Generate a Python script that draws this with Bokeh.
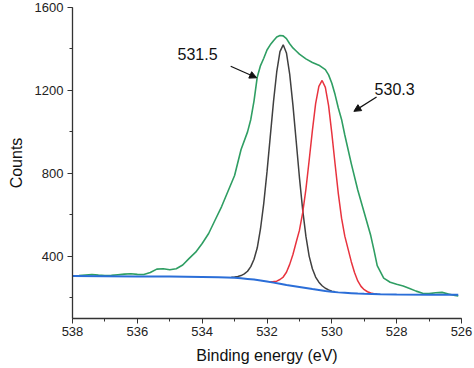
from bokeh.plotting import figure
from bokeh.models import Range1d, SingleIntervalTicker, Arrow, NormalHead, Label
from bokeh.embed import file_html
from bokeh.resources import INLINE

# ---- data ----
# envelope (measured spectrum, green)
env_be = [538.0, 537.8, 537.6, 537.4, 537.2, 537.0, 536.8, 536.6, 536.4, 536.2,
          536.0, 535.8, 535.6, 535.4, 535.2, 535.0, 534.8, 534.6, 534.4, 534.2,
          534.0, 533.8, 533.6, 533.4, 533.2, 533.0, 532.8, 532.6, 532.5, 532.4,
          532.3, 532.2, 532.1, 532.0, 531.9, 531.8, 531.7, 531.6, 531.5, 531.4,
          531.3, 531.2, 531.1, 531.0, 530.8, 530.6, 530.4, 530.2, 530.1, 530.0,
          529.9, 529.8, 529.7, 529.6, 529.4, 529.2, 529.0, 528.8, 528.7, 528.6,
          528.4, 528.2, 528.0, 527.8, 527.6, 527.4, 527.2, 527.0, 526.8, 526.6,
          526.4, 526.2, 526.1]
env_counts = [305, 307, 310, 312, 309, 307, 308, 311, 314, 316,
              313, 312, 322, 338, 340, 335, 340, 358, 390, 420,
              462, 510, 575, 640, 715, 790, 915, 1000, 1060, 1150,
              1265, 1320, 1355, 1395, 1420, 1440, 1458, 1465, 1463, 1450,
              1425, 1405, 1390, 1375, 1352, 1335, 1322, 1300, 1275, 1235,
              1180, 1115, 1060, 985, 847, 720, 610, 500, 430, 355,
              295, 275, 265, 257, 245, 232, 222, 220, 224, 226,
              218, 211, 209]

# background (blue)
bg_be = [538.0, 537.0, 536.0, 535.0, 534.0, 533.5, 533.0, 532.8, 532.6, 532.4,
         532.2, 532.0, 531.8, 531.6, 531.4, 531.2, 531.0, 530.8, 530.6, 530.4,
         530.2, 530.0, 529.8, 529.6, 529.4, 529.2, 529.0, 528.5, 528.0, 527.0,
         526.1]
bg_counts = [305, 304, 303, 302, 300, 299, 297, 294, 291, 288,
             283, 278, 273, 268, 262, 257, 252, 247, 242, 238,
             233, 229, 226, 224, 222, 220, 219, 217, 216, 215,
             214]

# component at 531.5 eV (dark grey)
p1_be = [533.1, 533.0, 532.9, 532.8, 532.7, 532.6, 532.5, 532.4, 532.3, 532.2,
         532.1, 532.0, 531.9, 531.8, 531.7, 531.6, 531.5, 531.4, 531.3, 531.2,
         531.1, 531.0, 530.9, 530.8, 530.7, 530.6, 530.5, 530.4, 530.3, 530.2,
         530.1, 530.0, 529.9]
p1_counts = [299, 300, 303, 307, 315, 328, 350, 386, 441, 533,
             655, 807, 976, 1145, 1289, 1387, 1420, 1381, 1279, 1129,
             956, 781, 625, 497, 401, 340, 300, 275, 258, 246,
             238, 232, 229]

# component at 530.3 eV (red)
p2_be = [531.9, 531.8, 531.7, 531.6, 531.5, 531.4, 531.3, 531.2, 531.1, 531.0,
         530.9, 530.8, 530.7, 530.6, 530.5, 530.4, 530.3, 530.2, 530.1, 530.0,
         529.9, 529.8, 529.7, 529.6, 529.5, 529.4, 529.3, 529.2, 529.1, 529.0,
         528.9, 528.8, 528.7, 528.6]
p2_counts = [277, 278, 280, 288, 300, 323, 361, 409, 468, 525,
             609, 723, 862, 1006, 1136, 1220, 1248, 1215, 1127, 993,
             845, 702, 584, 497, 436, 374, 322, 281, 255, 239,
             229, 223, 220, 218]

peak_labels = ["531.5", "530.3"]

FONT = "Liberation Sans"

p = figure(width=474, height=368, output_backend="svg", toolbar_location=None,
           x_range=Range1d(538, 526), y_range=Range1d(100, 1600),
           min_border_left=72, min_border_right=13, min_border_top=7,
           min_border_bottom=50)
p.outline_line_color = None
p.xgrid.visible = False
p.ygrid.visible = False
p.background_fill_color = "white"
p.border_fill_color = "white"

p.line(env_be, env_counts, line_color="#2f9e63", line_width=1.6)
p.line(p1_be, p1_counts, line_color="#404040", line_width=1.5)
p.line(p2_be, p2_counts, line_color="#e8333e", line_width=1.5)
p.line(bg_be, bg_counts, line_color="#2b6ed8", line_width=2)

# axes
p.xaxis.ticker = SingleIntervalTicker(interval=2, num_minor_ticks=2)
p.yaxis.ticker = SingleIntervalTicker(interval=400, num_minor_ticks=2)
for ax in (p.xaxis[0], p.yaxis[0]):
    ax.axis_line_color = "#333333"
    ax.axis_line_width = 1.3
    ax.major_tick_line_color = "#333333"
    ax.minor_tick_line_color = "#333333"
    ax.major_tick_in = 0
    ax.major_tick_out = 5
    ax.minor_tick_in = 0
    ax.minor_tick_out = 3
    ax.major_label_text_font = FONT
    ax.major_label_text_font_size = "13px"
    ax.major_label_text_color = "#222222"
    ax.axis_label_text_font = FONT
    ax.axis_label_text_font_size = "16px"
    ax.axis_label_text_font_style = "normal"
    ax.axis_label_text_color = "#111111"
p.xaxis.axis_label = "Binding energy (eV)"
p.yaxis.axis_label = "Counts"
p.xaxis.major_label_standoff = 3
p.xaxis.axis_label_standoff = 8
p.yaxis.major_label_standoff = 4
p.yaxis.axis_label_standoff = 7

# peak labels and arrows
p.add_layout(Label(x=534.76, y=1378, text=peak_labels[0], text_font=FONT,
                   text_font_size="16px", text_color="#111111",
                   text_baseline="alphabetic"))
p.add_layout(Label(x=528.68, y=1205, text=peak_labels[1], text_font=FONT,
                   text_font_size="16px", text_color="#111111",
                   text_baseline="alphabetic"))
p.add_layout(Arrow(x_start=533.12, y_start=1317, x_end=532.32, y_end=1261,
                   line_color="#111111", line_width=1.2,
                   end=NormalHead(size=7, fill_color="#111111", line_color="#111111")))
p.add_layout(Arrow(x_start=528.62, y_start=1168, x_end=529.32, y_end=1099,
                   line_color="#111111", line_width=1.2,
                   end=NormalHead(size=7, fill_color="#111111", line_color="#111111")))

open("out.html", "w").write(file_html(p, INLINE))
